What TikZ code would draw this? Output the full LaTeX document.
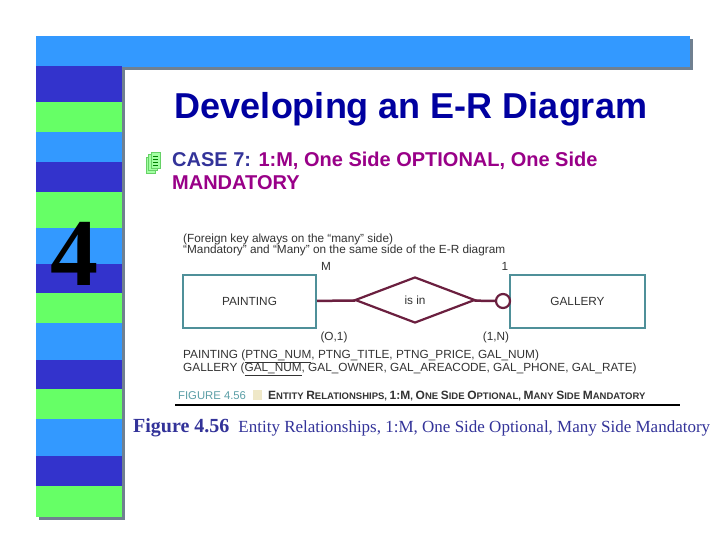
\documentclass[tikz,border=0pt]{standalone}
\usepackage{fontspec}
\setmainfont{Liberation Sans}
\newfontfamily\timesfont{Liberation Serif}
\usetikzlibrary{shapes.geometric}

\definecolor{ltblue}{RGB}{51,153,255}
\definecolor{dkblue}{RGB}{51,51,204}
\definecolor{ltgreen}{RGB}{102,255,102}
\definecolor{shadowgray}{RGB}{112,128,144}
\definecolor{titleblue}{RGB}{0,0,160}
\definecolor{caseblue}{RGB}{51,51,153}
\definecolor{casemagenta}{RGB}{153,0,136}
\definecolor{boxteal}{RGB}{79,144,153}
\definecolor{relmaroon}{RGB}{107,31,63}
\definecolor{figteal}{RGB}{90,158,166}
\definecolor{beige}{RGB}{239,232,200}
\definecolor{captionblue}{RGB}{51,51,153}

\newcommand{\capsl}[1]{{\fontsize{12}{12}\selectfont #1}}

\begin{document}
\begin{tikzpicture}[x=1pt,y=-1pt]

	\tikzstyle{entity} = [draw=boxteal,line width=2pt,fill=white,minimum width=133pt,minimum height=53pt,font=\fontsize{11.8}{13}\selectfont\color{black!80}]
	\tikzstyle{relation} = [draw=relmaroon,line width=2.2pt,shape=diamond,aspect=2.6,minimum width=120pt,minimum height=46pt,inner sep=0pt,font=\fontsize{11.8}{13}\selectfont\color{black!80}]
	\tikzstyle{optional} = [draw=relmaroon,line width=2.2pt,shape=circle,minimum size=14pt,inner sep=0pt,fill=white]
	\tikzstyle{rel} = [draw=relmaroon,line width=2.5pt]
	\tikzstyle{small} = [inner sep=0pt,font=\fontsize{11.8}{13}\selectfont,text=black!80]

	\useasboundingbox[fill=white] (0,0) rectangle (720,540);

	% shadow, top bar and striped column
	\fill[shadowgray] (39,39) rectangle (693,70);
	\fill[shadowgray] (39,69) rectangle (125,520);
	\fill[ltblue] (36,36) rectangle (690,67);
	\foreach \a/\b/\c in {66/102/dkblue,102/132/ltgreen,132/162/ltblue,162/192/dkblue,
		192/228/ltgreen,228/264/ltblue,264/293/dkblue,293/323/ltgreen,323/360/ltblue,
		360/389/dkblue,389/419/ltgreen,419/456/ltblue,456/486/dkblue,486/517/ltgreen}
		\fill[\c] (36,\a) rectangle (122,\b);

	\node (chapter) [inner sep=0pt,font=\timesfont\bfseries\fontsize{96}{96}\selectfont] at (74,254) {4};

	\node (title) [anchor=base,inner sep=0pt,text=titleblue,font=\bfseries\fontsize{36}{38}\selectfont] at (411,119) {Developing an E-R Diagram};

	% bullet icon
	\foreach \o in {0,2.5,5}
		\draw[green!70!black!60,fill=ltgreen!60,line width=0.8pt] (146+\o,157-\o) rectangle (155+\o,173-\o);
	\foreach \y in {156,159,162,165}
		\draw[green!50!black,line width=0.8pt] (153,\y) -- (158,\y);

	\node (case) [anchor=base west,inner sep=0pt,font=\bfseries\fontsize{20}{22}\selectfont] at (172,167)
		{\color{caseblue}CASE 7: \color{casemagenta}1:M, One Side OPTIONAL, One Side};
	\node (case2) [anchor=base west,inner sep=0pt,text=casemagenta,font=\bfseries\fontsize{20}{22}\selectfont] at (172,190) {MANDATORY};

	% E-R figure
	\node (note1) [small,anchor=base west] at (183,242) {(Foreign key always on the “many” side)};
	\node (note2) [small,anchor=base west] at (183,254) {“Mandatory” and “Many” on the same side of the E-R diagram};

	\node (painting) [entity] at (249.5,301.5) {PAINTING};
	\node (gallery) [entity,minimum width=135pt] at (577.5,301.5) {GALLERY};
	\node (isin) [relation] at (415,300) {is in};
	\node (opt) [optional] at (503,301) {};
	\draw[rel] (painting) -- (isin);
	\draw[rel] (isin) -- (opt);

	\node (many) [small] at (326,266) {M};
	\node (one) [small] at (505,266) {1};
	\node (card1) [small] at (334,337) {(O,1)};
	\node (card2) [small] at (496,337) {(1,N)};

	\node (ptable) [small,anchor=base west] at (183,358) {PAINTING (\underline{PTNG\_NUM}, PTNG\_TITLE, PTNG\_PRICE, GAL\_NUM)};
	\node (gtable) [small,anchor=base west] at (183,371) {GALLERY (\underline{GAL\_NUM}, GAL\_OWNER, GAL\_AREACODE, GAL\_PHONE, GAL\_RATE)};

	\node (fignum) [anchor=base west,inner sep=0pt,text=figteal,font=\fontsize{11.3}{12}\selectfont] at (178,399) {FIGURE 4.56};
	\fill[beige] (253,390) rectangle (262,400);
	\node (figtext) [anchor=base west,inner sep=0pt,text=black!80,font=\bfseries\fontsize{9.5}{12}\selectfont] at (268,399)
		{\capsl{E}NTITY \capsl{R}ELATIONSHIPS, \capsl{1:M}, \capsl{O}NE \capsl{S}IDE \capsl{O}PTIONAL, \capsl{M}ANY \capsl{S}IDE \capsl{M}ANDATORY};
	\draw[line width=2pt] (175,405) -- (680,405);

	\node (caption) [anchor=base west,inner sep=0pt,text=captionblue,font=\timesfont\fontsize{17}{19}\selectfont] at (133,432)
		{{\bfseries\fontsize{20}{20}\selectfont Figure 4.56}\hspace{9pt}Entity Relationships, 1:M, One Side Optional, Many Side Mandatory};

\end{tikzpicture}
\end{document}
